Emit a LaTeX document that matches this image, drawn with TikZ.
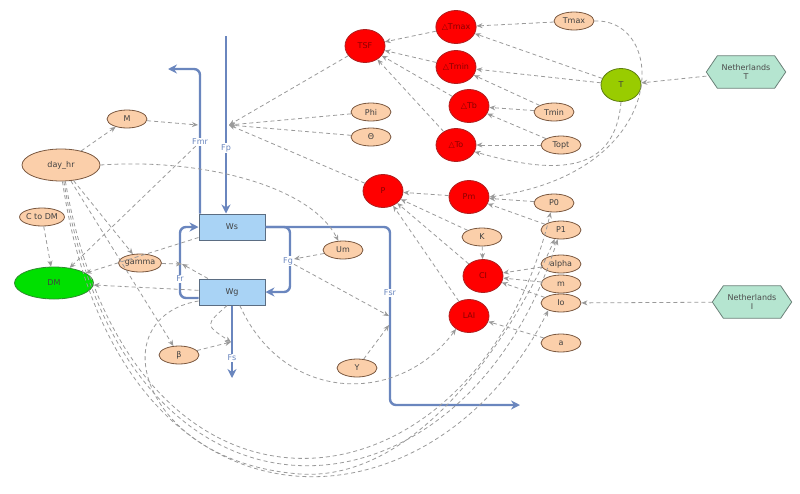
\documentclass[tikz,border=0pt]{standalone}
\usepackage{fontspec}
\setmainfont{DejaVu Sans}
\usetikzlibrary{arrows.meta,shapes.geometric,backgrounds,calc}
\definecolor{peach}{HTML}{FBCFAA}
\definecolor{peachbd}{HTML}{7A5840}
\definecolor{redfill}{HTML}{FF0000}
\definecolor{redbd}{HTML}{B02020}
\definecolor{redtxt}{HTML}{8A0000}
\definecolor{flow}{HTML}{6A86BE}
\definecolor{boxfill}{HTML}{A9D3F5}
\definecolor{boxbd}{HTML}{5B6D82}
\definecolor{dmgreen}{HTML}{00E000}
\definecolor{dmbd}{HTML}{2E8B2E}
\definecolor{tgreen}{HTML}{99CC00}
\definecolor{tbd}{HTML}{5E7F10}
\definecolor{mint}{HTML}{B5E5D0}
\definecolor{mintbd}{HTML}{6A8078}
\definecolor{link}{HTML}{9A9A9A}
\begin{document}
\begin{tikzpicture}[x=1pt,y=-1pt, font=\fontsize{8}{9.5}\selectfont,
 var/.style={ellipse, draw=peachbd, fill=peach, line width=0.8pt, minimum width=40pt, minimum height=18pt, inner sep=0pt, text=black!75},
 bigvar/.style={var, minimum width=78pt, minimum height=32pt},
 redvar/.style={ellipse, draw=redbd, fill=redfill, line width=0.8pt, minimum width=40pt, minimum height=33pt, inner sep=0pt, text=redtxt},
 stock/.style={rectangle, draw=boxbd, fill=boxfill, line width=1pt, minimum width=66pt, minimum height=26pt, inner sep=0pt, text=black!75},
 hexa/.style={minimum width=79pt, minimum height=32pt, inner sep=0pt, align=center, text=black!70},
 hexdraw/.style={draw=mintbd, fill=mint, line width=0.8pt},
 flowline/.style={draw=flow, line width=2.4pt, rounded corners=6pt},
 flowarr/.style={flowline, -{Stealth[length=9pt,width=9pt]}},
 flowlab/.style={fill=white, inner sep=1pt, text=flow},
 infl/.style={draw=link, line width=0.8pt, dash pattern=on 4pt off 3pt, -{Stealth[length=6pt,width=5pt]}},
]
\useasboundingbox (0,0) rectangle (800,493);

% temperature group
\node[redvar] (TSF) at (365,46) {TSF};
\node[redvar] (dTmax) at (456,27) {△Tmax};
\node[redvar] (dTmin) at (456,67) {△Tmin};
\node[redvar] (dTb) at (469,106) {△Tb};
\node[redvar] (dTo) at (456,145) {△To};
\node[var] (Tmax) at (574,21) {Tmax};
\node[var] (Tmin) at (554,112) {Tmin};
\node[var] (Topt) at (561,145) {Topt};
\node[var] (Phi) at (371,112) {Phi};
\node[var] (Theta) at (371,137) {Θ};
\node[ellipse, draw=tbd, fill=tgreen, line width=0.8pt, minimum width=40pt, minimum height=33pt, inner sep=0pt, text=black!75] (T) at (621,85) {T};
\node[hexa] (NT) at (746,72) {Netherlands\\T};
\node[hexa] (NI) at (752,302) {Netherlands\\I};
\begin{scope}[on background layer]
\draw[hexdraw] (NT.west) -- ($(NT.north west)+(11,0)$) -- ($(NT.north east)+(-11,0)$) -- (NT.east) -- ($(NT.south east)+(-11,0)$) -- ($(NT.south west)+(11,0)$) -- cycle;
\draw[hexdraw] (NI.west) -- ($(NI.north west)+(11,0)$) -- ($(NI.north east)+(-11,0)$) -- (NI.east) -- ($(NI.south east)+(-11,0)$) -- ($(NI.south west)+(11,0)$) -- cycle;
\end{scope}

% photosynthesis group
\node[redvar] (P) at (383,191) {P};
\node[redvar] (Pm) at (469,197) {Pm};
\node[var] (P0) at (554,203) {P0};
\node[var] (P1) at (561,230) {P1};
\node[var] (K) at (482,237) {K};
\node[redvar] (CI) at (483,276) {CI};
\node[var] (alpha) at (561,264) {alpha};
\node[var] (m) at (561,284) {m};
\node[var] (Io) at (561,303) {Io};
\node[redvar] (LAI) at (469,316) {LAI};
\node[var] (a) at (561,343) {a};

% left group
\node[var] (Um) at (343,250) {Um};
\node[stock] (Ws) at (232,227) {Ws};
\node[stock] (Wg) at (232,292) {Wg};
\node[var] (beta) at (179,355) {β};
\node[var] (Y) at (357,368) {Y};
\node[var] (M) at (127,119) {M};
\node[bigvar] (dayhr) at (61,165) {day\_hr};
\node[var] (CtoDM) at (42,217) {C to DM};
\node[ellipse, draw=dmbd, fill=dmgreen, line width=0.8pt, minimum width=79pt, minimum height=32pt, inner sep=0pt, text=black!75] (DM) at (54,283) {DM};
\node[var] (gamma) at (140,263) {gamma};

% flows
\coordinate (fpsrc) at (226,36);
\coordinate (fmrend) at (168,69);
\coordinate (fsrend) at (520,405);
\coordinate (fsend) at (232,378);
\draw[flowarr] (fpsrc) -- (fpsrc |- Ws.north);
\draw[flowarr] ($(Ws.north west)+(1.5,0)$) |- (fmrend);
\draw[flowarr] (Ws.east) -| (390,405) -- (fsrend);
\draw[flowarr] (Ws.east) -- (290,227) -- (290,292) -- (Wg.east);
\draw[flowarr] ($(Wg.west)+(0,6)$) -| (180,227) -- (Ws.west);
\draw[flowarr] (Wg.south) -- (fsend);
\node[flowlab] (Lfp) at (226,148) {Fp};
\node[flowlab] (Lfmr) at (200,142) {Fmr};
\node[flowlab] (Lfsr) at (390,293) {Fsr};
\node[flowlab] (Lfg) at (288,261) {Fg};
\node[flowlab] (Lfr) at (180,279) {Fr};
\node[flowlab] (Lfs) at (232,358) {Fs};

% influence targets on flows
\coordinate (fpin) at (229,125);
\coordinate (fmrin) at (198,125);
\coordinate (frin) at (182,264);
\coordinate (fgin) at (294,259);
\coordinate (fsrin) at (389,316);
\coordinate (fsrin2) at (389,325);
\coordinate (fsin) at (231,342);

% influences
\draw[infl] (Tmax) -- (dTmax);
\draw[infl] (T) -- (dTmax);
\draw[infl] (T) -- (dTmin);
\draw[infl] (Tmin) -- (dTmin);
\draw[infl] (Tmin) -- (dTb);
\draw[infl] (Topt) -- (dTb);
\draw[infl] (Topt) -- (dTo);
\draw[infl] (T.south) .. controls (615,172) and (560,176) .. (dTo.-20);
\draw[infl] (Tmax.east) .. controls (668,18) and (672,172) .. (Pm.east);
\draw[infl] (NT) -- (T);
\draw[infl] (NI) -- (Io);
\draw[infl] (dTmax) -- (TSF);
\draw[infl] (dTmin) -- (TSF);
\draw[infl] (dTb) -- (TSF);
\draw[infl] (dTo) -- (TSF);
\draw[infl] (TSF) -- (fpin);
\draw[infl] (Phi) -- (fpin);
\draw[infl] (Theta) -- (fpin);
\draw[infl] (P) -- (fpin);
\draw[infl] (M) -- (fmrin);
\draw[infl] (dayhr) -- (M);
\draw[infl] (dayhr.east) .. controls (200,158) and (310,185) .. (Um);
\draw[infl] (dayhr) -- (gamma);
\draw[infl] (dayhr) -- (beta);
\draw[infl] (CtoDM) -- (DM);
\draw[infl] (Lfmr) -- (DM);
\draw[infl] (Ws) -- (DM);
\draw[infl] (Wg) -- (DM);
\draw[infl] (gamma) -- (frin);
\draw[infl] (Wg) -- (frin);
\draw[infl] (Um) -- (fgin);
\draw[infl] (Lfg) -- (fsrin);
\draw[infl] (Y) -- (fsrin2);
\draw[infl] (beta) -- (fsin);
\draw[infl] (Wg.-110) .. controls (205,325) .. (fsin);
\draw[infl] (Wg.-60) .. controls (285,405) and (400,405) .. (LAI.-135);
\draw[infl] (Pm) -- (P);
\draw[infl] (K) -- (P);
\draw[infl] (CI) -- (P);
\draw[infl] (LAI) -- (P);
\draw[infl] (K) -- (CI);
\draw[infl] (alpha) -- (CI);
\draw[infl] (m) -- (CI);
\draw[infl] (Io) -- (CI);
\draw[infl] (P0) -- (Pm);
\draw[infl] (P1) -- (Pm);
\draw[infl] (a) -- (LAI);
\draw[infl] (dayhr.-85) .. controls (118,555) and (430,545) .. (Io.-150);
\draw[infl] (dayhr.-80) .. controls (125,560) and (462,540) .. (P1.-110);
\draw[infl] (dayhr.-75) .. controls (132,565) and (475,525) .. (P0.-110);
\draw[infl] (Wg.-165) .. controls (100,318) and (140,462) .. (300,474) .. controls (420,482) and (515,330) .. (P1.-125);
\end{tikzpicture}
\end{document}
